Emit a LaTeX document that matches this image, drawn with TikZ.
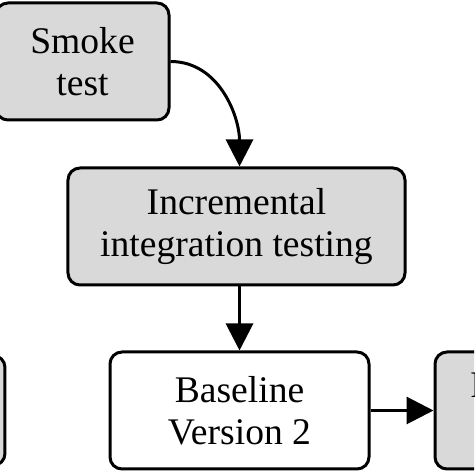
\documentclass[tikz,border=0pt]{standalone}
\usepackage{fontspec}
\setmainfont{Liberation Serif}
\usetikzlibrary{positioning,arrows.meta}
\definecolor{boxgrey}{gray}{0.85}

\begin{document}
\begin{tikzpicture}[node distance=24pt,
	box/.style = {draw, line width=1.5pt, rounded corners=6pt, align=center, minimum height=58.5pt, font=\fontsize{18.8pt}{21pt}\selectfont},
	grey box/.style = {box, fill=boxgrey},
	arr/.style = {-{Triangle[length=13.5pt, width=13.5pt]}, line width=1.5pt}]
\useasboundingbox (-119.75pt,-31.75pt) rectangle (117.25pt,205.25pt);
\clip (-119.75pt,-31.75pt) rectangle (117.25pt,205.25pt);
\node[box, minimum width=129.5pt]                                           (base)  {Baseline\\Version 2};
\node[grey box, minimum width=168.5pt, above=32pt of base, xshift=-1.5pt]   (incr)  {Incremental\\integration testing};
\node[grey box, minimum width=86.5pt, above left=22.5pt and -52pt of incr]  (smoke) {Smoke\\test};
\node[grey box, minimum width=119pt, right=31.5pt of base]                  (regr)  {Regression\\testing};
\node[grey box, minimum width=100pt, minimum height=55pt, left=51pt of base] (prev)  {};

\draw[arr] (smoke.east) to[out=0, in=90] (incr.north -| base.north);
\draw[arr] (incr.south -| base.north) -- (base.north);
\draw[arr] (base.east) -- (regr.west);
\end{tikzpicture}
\end{document}
